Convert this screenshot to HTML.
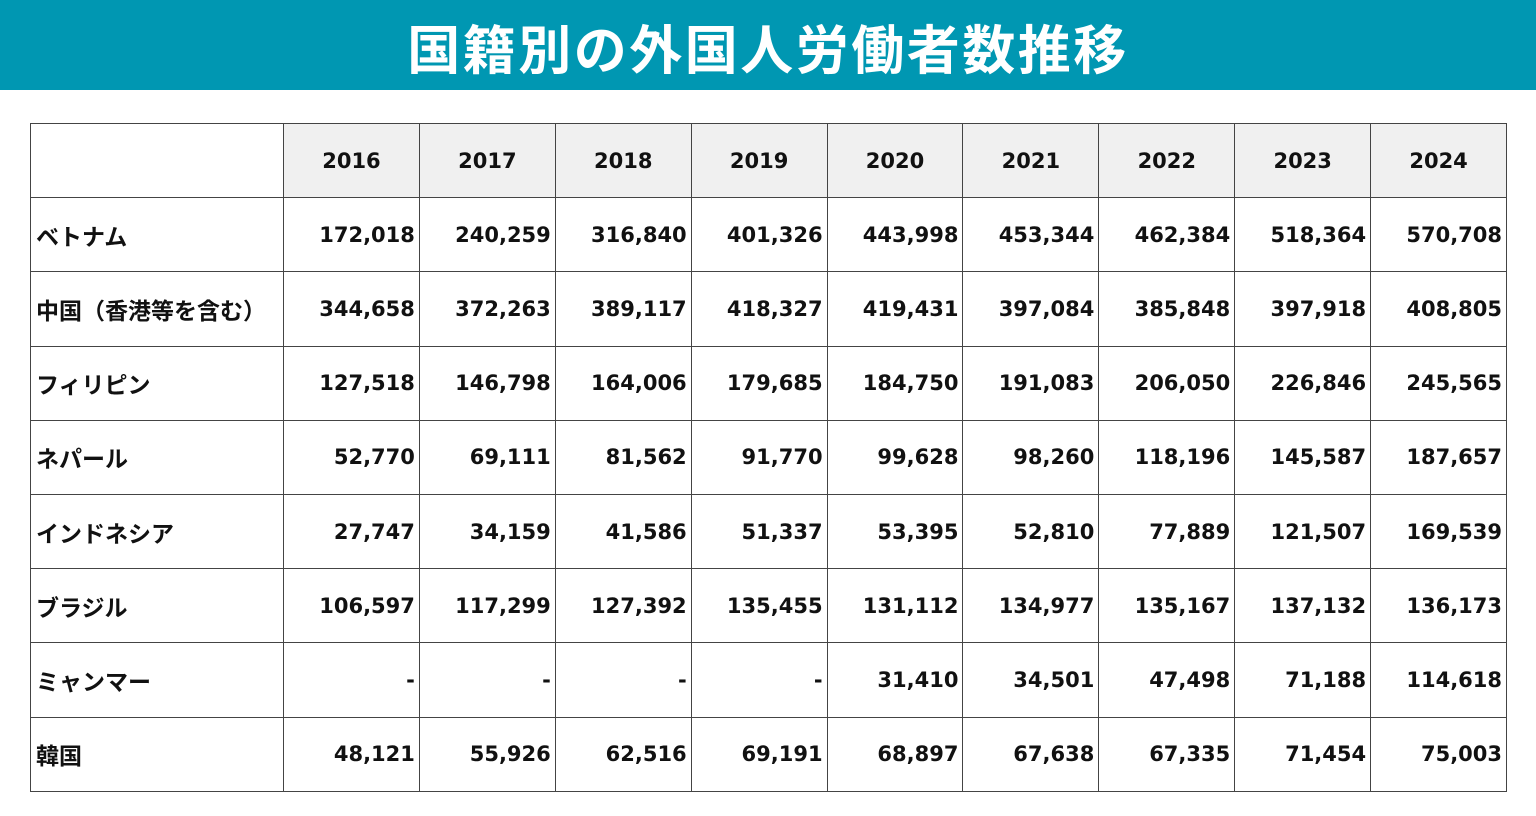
<!DOCTYPE html>
<html><head><meta charset="utf-8"><style>
body{margin:0;width:1536px;height:816px;background:#fff;overflow:hidden;font-family:"DejaVu Sans","Noto Sans CJK JP",sans-serif;}
.bar{position:absolute;left:0;top:0;width:1536px;height:90px;background:#0097b2;color:#fff;font-weight:700;font-size:53px;text-align:center;line-height:94px;letter-spacing:2.5px;font-family:"Noto Sans CJK JP",sans-serif}
table{position:absolute;left:30px;top:123px;border-collapse:collapse;table-layout:fixed;width:1476px;height:668px}
td{border:1px solid #444;height:74.2px;padding:0 4px;font-size:21px;font-weight:700;color:#111;text-align:right;box-sizing:border-box}
td:first-child{text-align:left;padding-left:5px;font-family:"Noto Sans CJK JP",sans-serif;font-size:23px}
tr.h td{background:#f0f0f0;text-align:center}
tr.h td:first-child{background:#fff}
</style></head><body>
<div class="bar">国籍別の外国人労働者数推移</div>
<table>
<colgroup><col style="width:253px"><col span="9" style="width:135.9px"></colgroup>
<tr class="h"><td></td><td>2016</td><td>2017</td><td>2018</td><td>2019</td><td>2020</td><td>2021</td><td>2022</td><td>2023</td><td>2024</td></tr>
<tr><td>ベトナム</td><td>172,018</td><td>240,259</td><td>316,840</td><td>401,326</td><td>443,998</td><td>453,344</td><td>462,384</td><td>518,364</td><td>570,708</td></tr>
<tr><td>中国（香港等を含む）</td><td>344,658</td><td>372,263</td><td>389,117</td><td>418,327</td><td>419,431</td><td>397,084</td><td>385,848</td><td>397,918</td><td>408,805</td></tr>
<tr><td>フィリピン</td><td>127,518</td><td>146,798</td><td>164,006</td><td>179,685</td><td>184,750</td><td>191,083</td><td>206,050</td><td>226,846</td><td>245,565</td></tr>
<tr><td>ネパール</td><td>52,770</td><td>69,111</td><td>81,562</td><td>91,770</td><td>99,628</td><td>98,260</td><td>118,196</td><td>145,587</td><td>187,657</td></tr>
<tr><td>インドネシア</td><td>27,747</td><td>34,159</td><td>41,586</td><td>51,337</td><td>53,395</td><td>52,810</td><td>77,889</td><td>121,507</td><td>169,539</td></tr>
<tr><td>ブラジル</td><td>106,597</td><td>117,299</td><td>127,392</td><td>135,455</td><td>131,112</td><td>134,977</td><td>135,167</td><td>137,132</td><td>136,173</td></tr>
<tr><td>ミャンマー</td><td>-</td><td>-</td><td>-</td><td>-</td><td>31,410</td><td>34,501</td><td>47,498</td><td>71,188</td><td>114,618</td></tr>
<tr><td>韓国</td><td>48,121</td><td>55,926</td><td>62,516</td><td>69,191</td><td>68,897</td><td>67,638</td><td>67,335</td><td>71,454</td><td>75,003</td></tr>
</table>
</body></html>
